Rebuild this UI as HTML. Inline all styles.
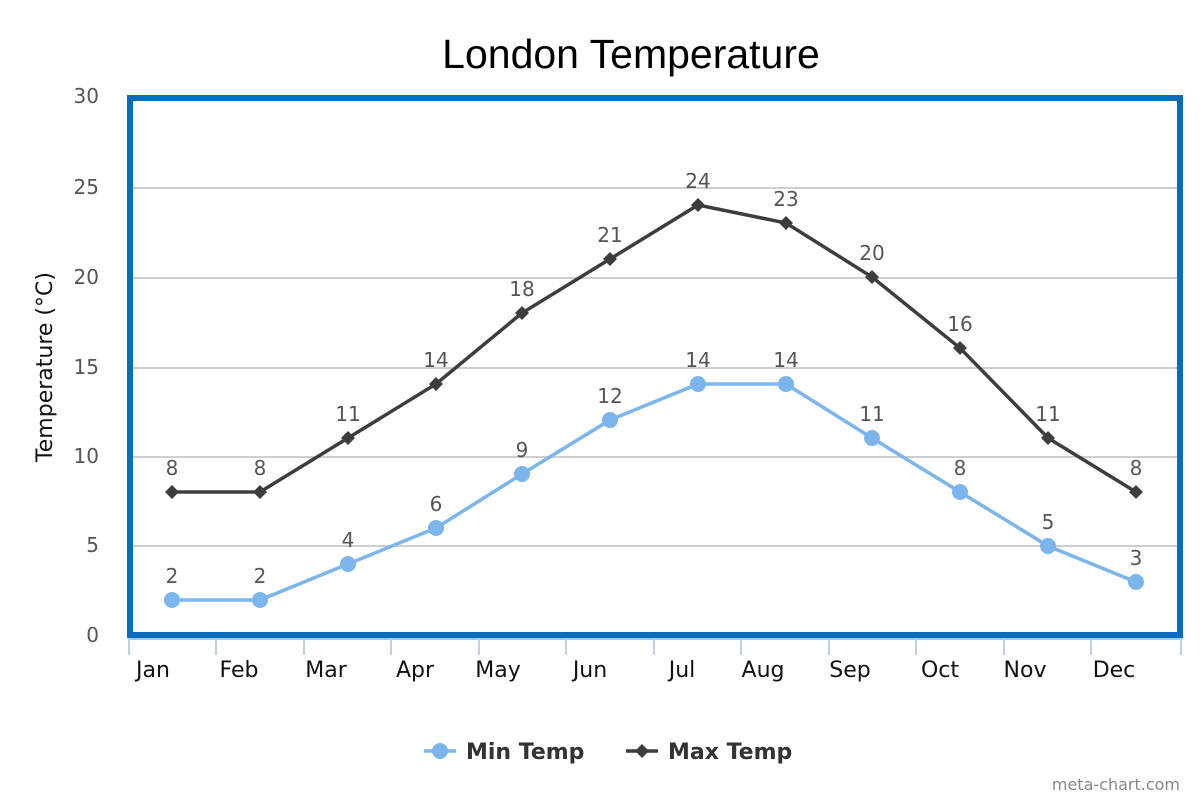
<!DOCTYPE html>
<html><head><meta charset="utf-8"><style>
body{margin:0;background:#fff}
svg text{font-family:"DejaVu Sans",sans-serif}
</style></head><body>
<svg width="1200" height="800" xmlns="http://www.w3.org/2000/svg">
<rect width="1200" height="800" fill="#fff"/>
<text x="631" y="68" text-anchor="middle" font-size="41" fill="#000" style="font-family:'Liberation Sans',sans-serif">London Temperature</text>
<g stroke="#bdbdbd" stroke-width="1.5">
<line x1="130" x2="1180" y1="188" y2="188"/><line x1="130" x2="1180" y1="278" y2="278"/>
<line x1="130" x2="1180" y1="368" y2="368"/><line x1="130" x2="1180" y1="457" y2="457"/>
<line x1="130" x2="1180" y1="546" y2="546"/>
</g>
<rect x="130" y="98" width="1050" height="537" fill="none" stroke="#0a6bbd" stroke-width="6"/>
<line x1="128" x2="1182" y1="639" y2="639" stroke="#a8c8e8" stroke-width="2"/>
<g stroke="#c0d0e0" stroke-width="2">
<line x1="129" x2="129" y1="639" y2="655"/><line x1="216" x2="216" y1="639" y2="655"/><line x1="304" x2="304" y1="639" y2="655"/><line x1="391" x2="391" y1="639" y2="655"/><line x1="479" x2="479" y1="639" y2="655"/><line x1="566" x2="566" y1="639" y2="655"/><line x1="654" x2="654" y1="639" y2="655"/><line x1="741" x2="741" y1="639" y2="655"/><line x1="829" x2="829" y1="639" y2="655"/><line x1="916" x2="916" y1="639" y2="655"/><line x1="1004" x2="1004" y1="639" y2="655"/><line x1="1091" x2="1091" y1="639" y2="655"/><line x1="1181" x2="1181" y1="639" y2="655"/>
</g>
<g font-size="20" fill="#555" text-anchor="end">
<text x="99" y="103">30</text><text x="99" y="194">25</text><text x="99" y="284">20</text><text x="99" y="374">15</text><text x="99" y="463">10</text><text x="99" y="552">5</text><text x="99" y="642">0</text>
</g>
<g font-size="22" fill="#111" text-anchor="middle">
<text x="153" y="677">Jan</text><text x="239" y="677">Feb</text><text x="326" y="677">Mar</text><text x="415" y="677">Apr</text><text x="498" y="677">May</text><text x="590" y="677">Jun</text><text x="682" y="677">Jul</text><text x="763" y="677">Aug</text><text x="850" y="677">Sep</text><text x="940" y="677">Oct</text><text x="1025" y="677">Nov</text><text x="1114" y="677">Dec</text>
</g>
<text transform="translate(52,367) rotate(-90)" text-anchor="middle" font-size="22" fill="#111">Temperature (°C)</text>
<polyline fill="none" stroke="#7cb5ec" stroke-width="3.5" points="172,600 260,600 348,564 436,528 522,474 610,420 698,384 786,384 872,438 960,492 1048,546 1136,582"/>
<g fill="#7cb5ec">
<circle cx="172" cy="600" r="8"/><circle cx="260" cy="600" r="8"/><circle cx="348" cy="564" r="8"/><circle cx="436" cy="528" r="8"/><circle cx="522" cy="474" r="8"/><circle cx="610" cy="420" r="8"/><circle cx="698" cy="384" r="8"/><circle cx="786" cy="384" r="8"/><circle cx="872" cy="438" r="8"/><circle cx="960" cy="492" r="8"/><circle cx="1048" cy="546" r="8"/><circle cx="1136" cy="582" r="8"/>
</g>
<polyline fill="none" stroke="#3d3d3f" stroke-width="3.5" points="172,492 260,492 348,438 436,384 522,313 610,259 698,205 786,223 872,277 960,348 1048,438 1136,492"/>
<g fill="#3d3d3f">
<path d="M172 485l7 7-7 7-7-7z"/><path d="M260 485l7 7-7 7-7-7z"/><path d="M348 431l7 7-7 7-7-7z"/><path d="M436 377l7 7-7 7-7-7z"/><path d="M522 306l7 7-7 7-7-7z"/><path d="M610 252l7 7-7 7-7-7z"/><path d="M698 198l7 7-7 7-7-7z"/><path d="M786 216l7 7-7 7-7-7z"/><path d="M872 270l7 7-7 7-7-7z"/><path d="M960 341l7 7-7 7-7-7z"/><path d="M1048 431l7 7-7 7-7-7z"/><path d="M1136 485l7 7-7 7-7-7z"/>
</g>
<g font-size="20" fill="#555" text-anchor="middle">
<text x="172" y="583">2</text><text x="260" y="583">2</text><text x="348" y="547">4</text><text x="436" y="511">6</text><text x="522" y="457">9</text><text x="610" y="403">12</text><text x="698" y="367">14</text><text x="786" y="367">14</text><text x="872" y="421">11</text><text x="960" y="475">8</text><text x="1048" y="529">5</text><text x="1136" y="565">3</text>
<text x="172" y="475">8</text><text x="260" y="475">8</text><text x="348" y="421">11</text><text x="436" y="367">14</text><text x="522" y="296">18</text><text x="610" y="242">21</text><text x="698" y="188">24</text><text x="786" y="206">23</text><text x="872" y="260">20</text><text x="960" y="331">16</text><text x="1048" y="421">11</text><text x="1136" y="475">8</text>
</g>
<line x1="424" x2="456" y1="751" y2="751" stroke="#7cb5ec" stroke-width="3.5"/>
<circle cx="440" cy="751" r="8" fill="#7cb5ec"/>
<text x="466" y="759" font-size="22" font-weight="bold" fill="#333">Min Temp</text>
<line x1="626" x2="658" y1="751" y2="751" stroke="#3d3d3f" stroke-width="3.5"/>
<path d="M642 744l7 7-7 7-7-7z" fill="#3d3d3f"/>
<text x="668" y="759" font-size="22" font-weight="bold" fill="#333">Max Temp</text>
<text x="1180" y="790" text-anchor="end" font-size="16" fill="#888">meta-chart.com</text>
</svg>
</body></html>
